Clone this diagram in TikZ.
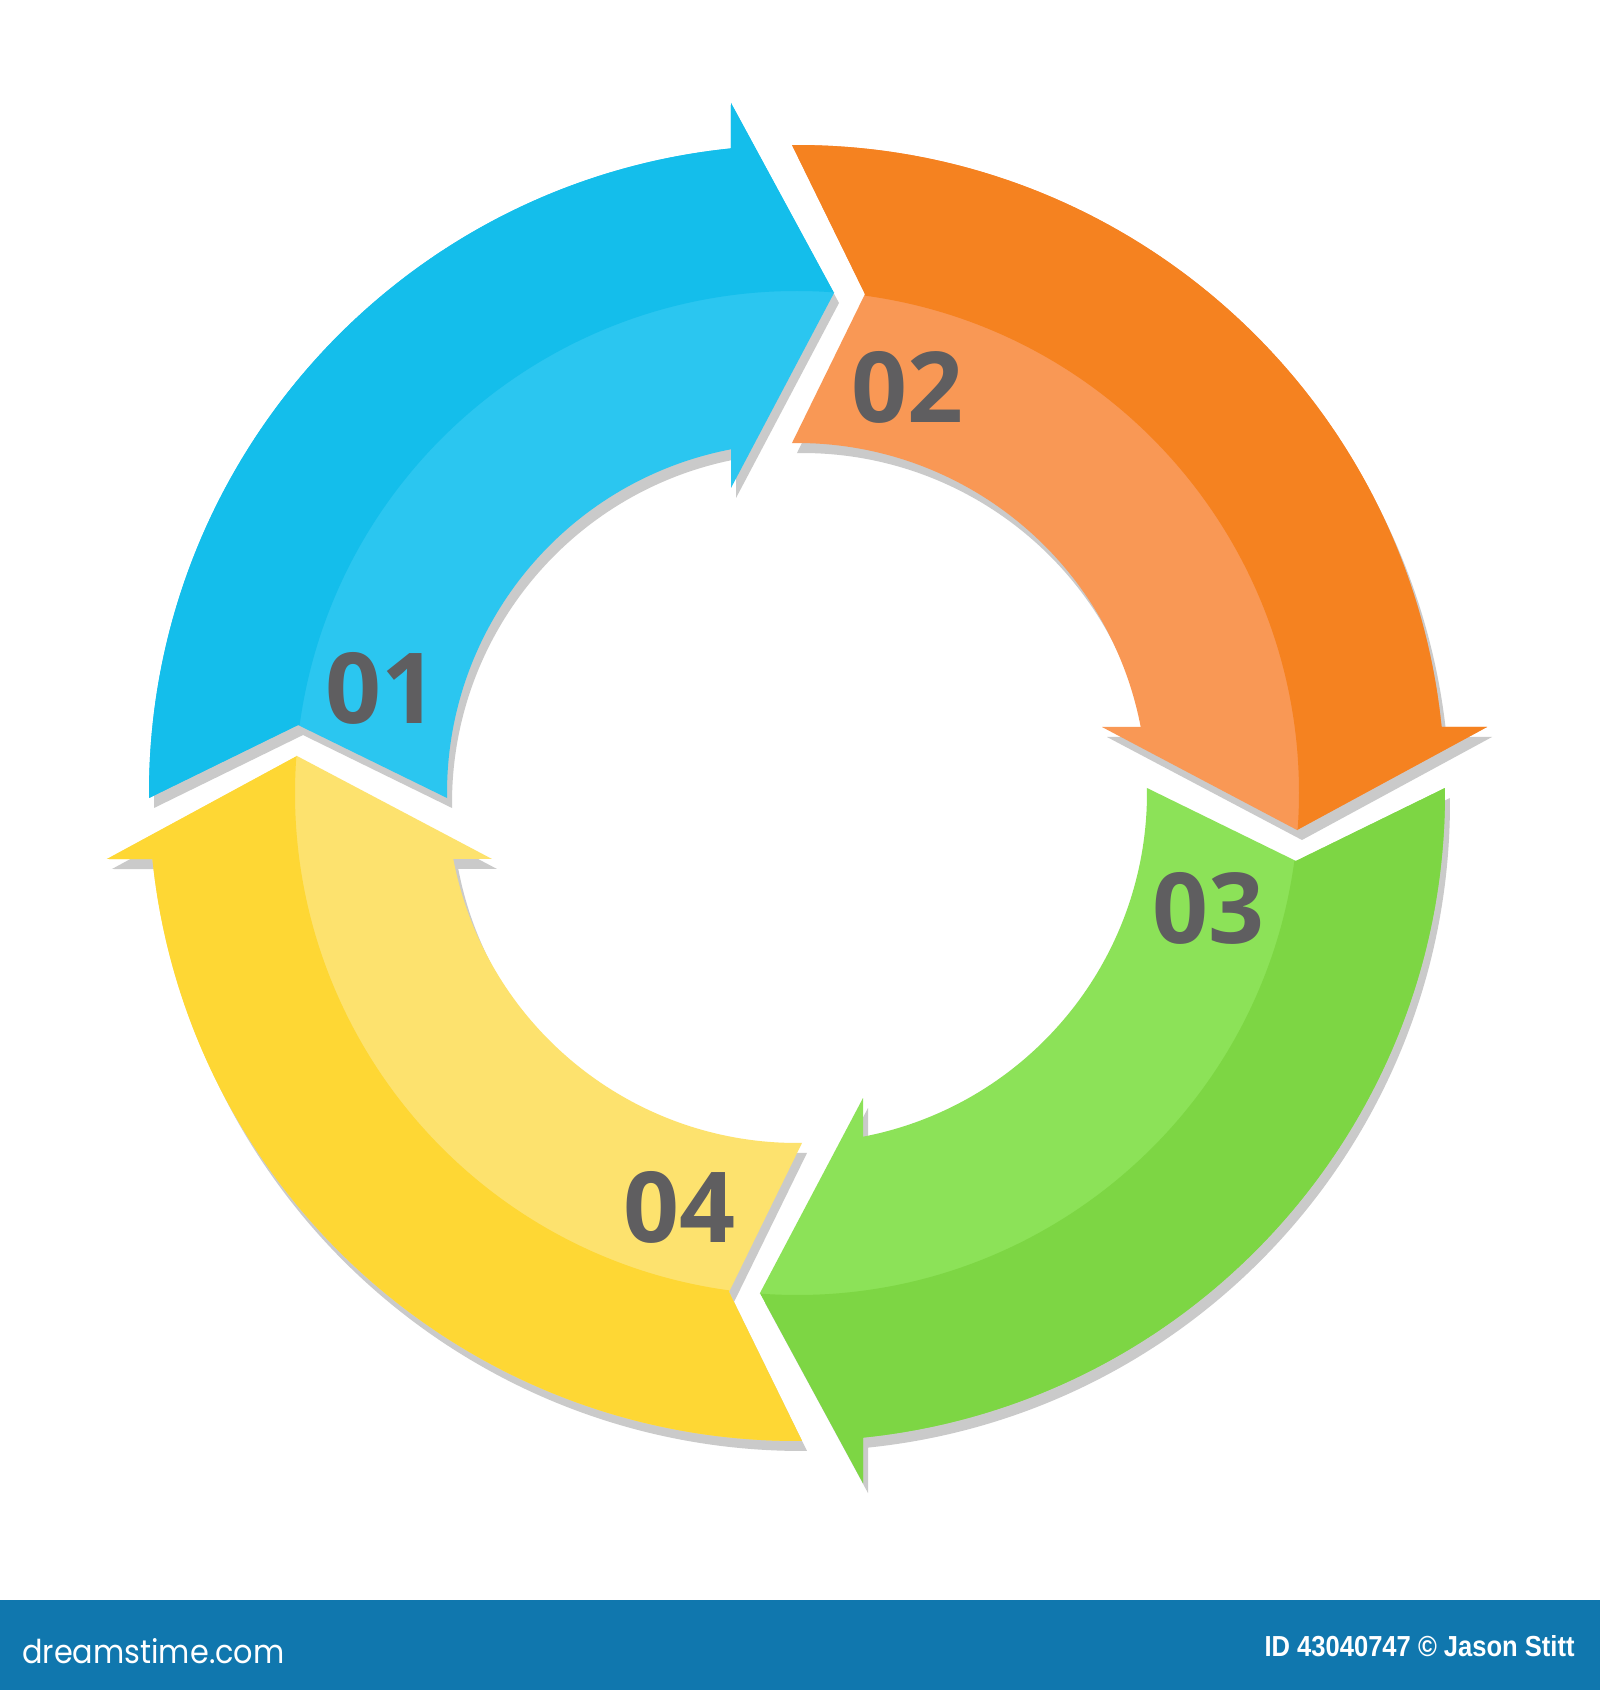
\documentclass[tikz,border=0pt]{standalone}
\usepackage{fontspec}
\setmainfont{Open Sans}
\newfontfamily\numfont{Open Sans}
\newfontfamily\barfont{Liberation Sans}
\newfontfamily\logofont{Poppins}
\definecolor{bluedark}{HTML}{14BEEB}
\definecolor{bluelight}{HTML}{2BC6F0}
\definecolor{orangedark}{HTML}{F58220}
\definecolor{orangelight}{HTML}{F99855}
\definecolor{greendark}{HTML}{7DD644}
\definecolor{greenlight}{HTML}{8CE258}
\definecolor{yellowdark}{HTML}{FED734}
\definecolor{yellowlight}{HTML}{FDE26E}
\definecolor{numgray}{HTML}{5F5E60}
\definecolor{shadowgray}{HTML}{CACACA}
\definecolor{barblue}{HTML}{1077AE}
\tikzset{
  numlabel/.style={font=\numfont\bfseries\fontsize{49}{49}\selectfont, text=numgray, inner sep=0pt},
  bartext/.style={text=white, inner sep=0pt},
}
% one arrow of the ring, head at the top, tail at the left
\newcommand\ringarrow[3]{%
  \begin{scope}[rotate=#1]
    \fill[#3] (180.44:648) -- (172.24:503.6) -- (180.82:350)
      arc[start angle=180.82, end angle=100.87, radius=350]
      -- (-66,305) -- (37,500) -- (-66,690) -- (95.85:648)
      arc[start angle=95.85, end angle=180.44, radius=648] -- cycle;
    \fill[#2] (172.24:503.6) -- (180.44:648)
      arc[start angle=180.44, end angle=95.85, radius=648]
      -- (-66,690) -- (37,500) -- (85.77:502)
      arc[start angle=85.77, end angle=172.24, radius=502] -- cycle;
  \end{scope}}
\newcommand\ringshadow[1]{%
  \begin{scope}[shift={(5,-10)}]
    \begin{scope}[rotate=#1]
      \fill[shadowgray] (180.44:648) -- (172.24:503.6) -- (180.82:350)
        arc[start angle=180.82, end angle=100.87, radius=350]
        -- (-66,305) -- (37,500) -- (-66,690) -- (95.85:648)
        arc[start angle=95.85, end angle=180.44, radius=648] -- cycle;
    \end{scope}
  \end{scope}}
\begin{document}
\begin{tikzpicture}[x=0.5pt, y=0.5pt]
  \useasboundingbox (-797,-897) rectangle (803,793);
  \fill[white] (-797,-897) rectangle (803,793);
  % shadows
  \ringshadow{0}
  \ringshadow{-90}
  \ringshadow{-180}
  \ringshadow{-270}
  % arrows
  \ringarrow{0}{bluedark}{bluelight}
  \ringarrow{-90}{orangedark}{orangelight}
  \ringarrow{-180}{greendark}{greenlight}
  \ringarrow{-270}{yellowdark}{yellowlight}
  % labels
  \node[numlabel] (n1) at (-416,105) {01};
  \node[numlabel] (n2) at (110,406) {02};
  \node[numlabel] (n3) at (411,-115) {03};
  \node[numlabel] (n4) at (-118,-414) {04};
  % bottom bar
  \fill[barblue] (-797,-897) rectangle (803,-807);
  \node[bartext, anchor=base west] (logo) at (-775,-870)
    {\resizebox{131pt}{12.5pt}{\logofont dreamstime.com}};
  \node[bartext, anchor=base east] (credit) at (778,-863)
    {\resizebox{155pt}{10.5pt}{\barfont\bfseries ID 43040747 © Jason Stitt}};
\end{tikzpicture}
\end{document}
